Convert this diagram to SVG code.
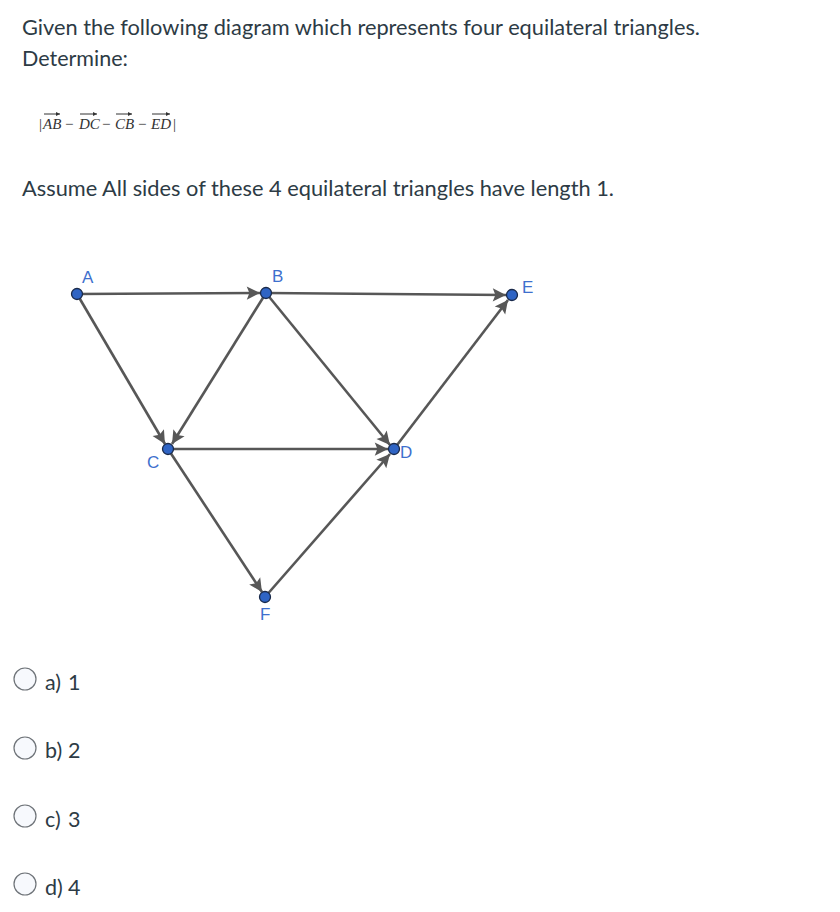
<svg xmlns="http://www.w3.org/2000/svg" width="840" height="912" viewBox="0 0 840 912">
<style>
.q{font-family:Lato,"Noto Sans",sans-serif;font-size:21.5px;fill:#2d3b45}
.f{font-family:"Liberation Serif",serif;font-style:italic;font-size:15px;fill:#333}
.fo{font-family:"Liberation Serif",serif;font-size:15px;fill:#333}
.lbl{font-family:"Liberation Sans",Arial,sans-serif;font-size:17px;fill:#3e6fcd}
.e{stroke:#575757;stroke-width:2.6;fill:none;marker-end:url(#ah)}
.pt{fill:#2f64c4;stroke:#1a2a4a;stroke-width:1.3}
.rb{fill:#f7f9fd;stroke:#6e7378;stroke-width:1.2}
.ov{stroke:#333;stroke-width:1;fill:none;marker-end:url(#sa)}
</style>
<defs>
<marker id="ah" viewBox="0 0 10 10" refX="10" refY="5" markerWidth="6" markerHeight="6" markerUnits="userSpaceOnUse" orient="auto" style="overflow:visible">
<path d="M0,0 L10,5 L0,10 L2,5 Z" fill="#575757" transform="scale(2.2) translate(-5.5,-2.7)"/>
</marker>
<marker id="sa" viewBox="0 0 6 6" refX="6" refY="3" markerWidth="4" markerHeight="4" orient="auto">
<path d="M0,0 L6,3 L0,6 Z" fill="#333"/>
</marker>
</defs>
<text class="q" x="22" y="35" textLength="678" lengthAdjust="spacingAndGlyphs">Given the following diagram which represents four equilateral triangles.</text>
<text class="q" x="22" y="66" textLength="106" lengthAdjust="spacingAndGlyphs">Determine:</text>
<g id="formula">
<text class="fo" x="39" y="129">|</text>
<text class="f" x="43" y="129">AB</text>
<text class="fo" x="65" y="129">−</text>
<text class="f" x="79" y="129">DC</text>
<text class="fo" x="102" y="129">−</text>
<text class="f" x="115" y="129">CB</text>
<text class="fo" x="138" y="129">−</text>
<text class="f" x="151" y="129">ED</text>
<text class="fo" x="173" y="129">|</text>
<path class="ov" d="M44,114 H60"/>
<path class="ov" d="M80,114 H97"/>
<path class="ov" d="M116,114 H132"/>
<path class="ov" d="M152,114 H170"/>
</g>
<text class="q" x="22" y="196" textLength="592" lengthAdjust="spacingAndGlyphs">Assume All sides of these 4 equilateral triangles have length 1.</text>
<g id="connectors">
<path class="e" d="M77,294 L260,293"/>
<path class="e" d="M266,293 L506,295"/>
<path class="e" d="M77,294 L165,444"/>
<path class="e" d="M266,293 L172,444"/>
<path class="e" d="M266,293 L390,445"/>
<path class="e" d="M168,449 L388,449"/>
<path class="e" d="M168,449 L262,592"/>
<path class="e" d="M265,597 L390,454"/>
<path class="e" d="M394,449 L508,300"/>
</g>
<g id="A"><circle class="pt" cx="77" cy="294" r="5.5"/><text class="lbl" x="82" y="283">A</text></g>
<g id="B"><circle class="pt" cx="266" cy="293" r="5.5"/><text class="lbl" x="272" y="282">B</text></g>
<g id="E"><circle class="pt" cx="512" cy="295" r="5.5"/><text class="lbl" x="522" y="293">E</text></g>
<g id="C"><circle class="pt" cx="168" cy="449" r="5.5"/><text class="lbl" x="147" y="468">C</text></g>
<g id="D"><circle class="pt" cx="394" cy="449" r="5.5"/><text class="lbl" x="400" y="458">D</text></g>
<g id="F"><circle class="pt" cx="265" cy="597" r="5.5"/><text class="lbl" x="260" y="620">F</text></g>
<g id="options">
<circle class="rb" cx="25" cy="679" r="11"/><text class="q" x="45" y="690">a)</text><text class="q" x="68" y="690">1</text>
<circle class="rb" cx="25" cy="748" r="11"/><text class="q" x="45" y="758">b)</text><text class="q" x="68" y="758">2</text>
<circle class="rb" cx="25" cy="816" r="11"/><text class="q" x="45" y="827">c)</text><text class="q" x="68" y="827">3</text>
<circle class="rb" cx="25" cy="884" r="11"/><text class="q" x="45" y="895">d)</text><text class="q" x="68" y="895">4</text>
</g>
</svg>
